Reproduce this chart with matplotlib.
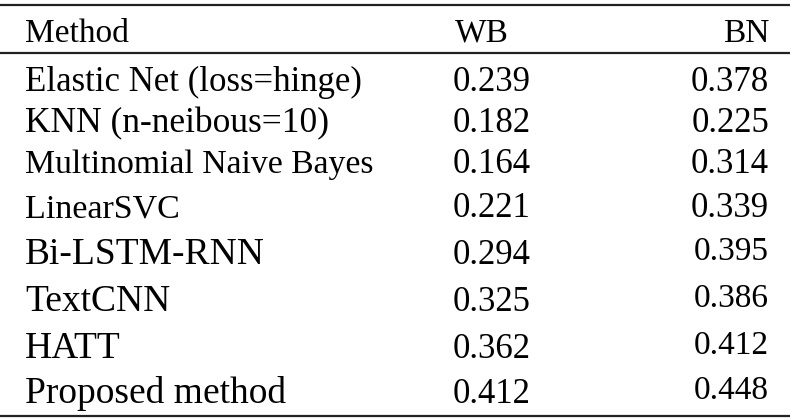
import matplotlib.pyplot as plt

# table contents
methods = ['Elastic Net (loss=hinge)', 'KNN (n-neibous=10)', 'Multinomial Naive Bayes',
           'LinearSVC', 'Bi-LSTM-RNN', 'TextCNN', 'HATT', 'Proposed method']
wb_scores = ['0.239', '0.182', '0.164', '0.221', '0.294', '0.325', '0.362', '0.412']
bn_scores = ['0.378', '0.225', '0.314', '0.339', '0.395', '0.386', '0.412', '0.448']
headers = ['Method', 'WB', 'BN']

# baselines in pixels (the lower four rows use a larger font)
row_y = [91, 132, 173, 217, 264, 311, 358, 403]
name_size = [25, 25.5, 24.3, 24.5, 27, 27, 27, 27]
bn_size = [25, 25, 25, 25, 24, 24, 24, 24]

fig = plt.figure(figsize=(7.94, 4.20), dpi=100)
ax = fig.add_axes([0, 0, 1, 1])
ax.set_xlim(0, 794)
ax.set_ylim(420, 0)
ax.axis('off')

font = dict(family='Liberation Serif', color='black', va='baseline')

# rules
for y in [5, 53, 416]:
    ax.plot([0, 790], [y, y], color='#222222', lw=1.6, solid_capstyle='butt')

ax.text(25, 42, headers[0], fontsize=24, ha='left', **font)
ax.text(455, 42, headers[1], fontsize=24, ha='left', **font)
ax.text(769, 42, headers[2], fontsize=24, ha='right', **font)

for i, m in enumerate(methods):
    ax.text(25, row_y[i], m, fontsize=name_size[i], ha='left', **font)
    ax.text(453, row_y[i], wb_scores[i], fontsize=25, ha='left', **font)
    bn_y = row_y[i] - 4 if i >= 4 else row_y[i]
    ax.text(769, bn_y, bn_scores[i], fontsize=bn_size[i], ha='right', **font)

fig.savefig('out.png', dpi=100)
